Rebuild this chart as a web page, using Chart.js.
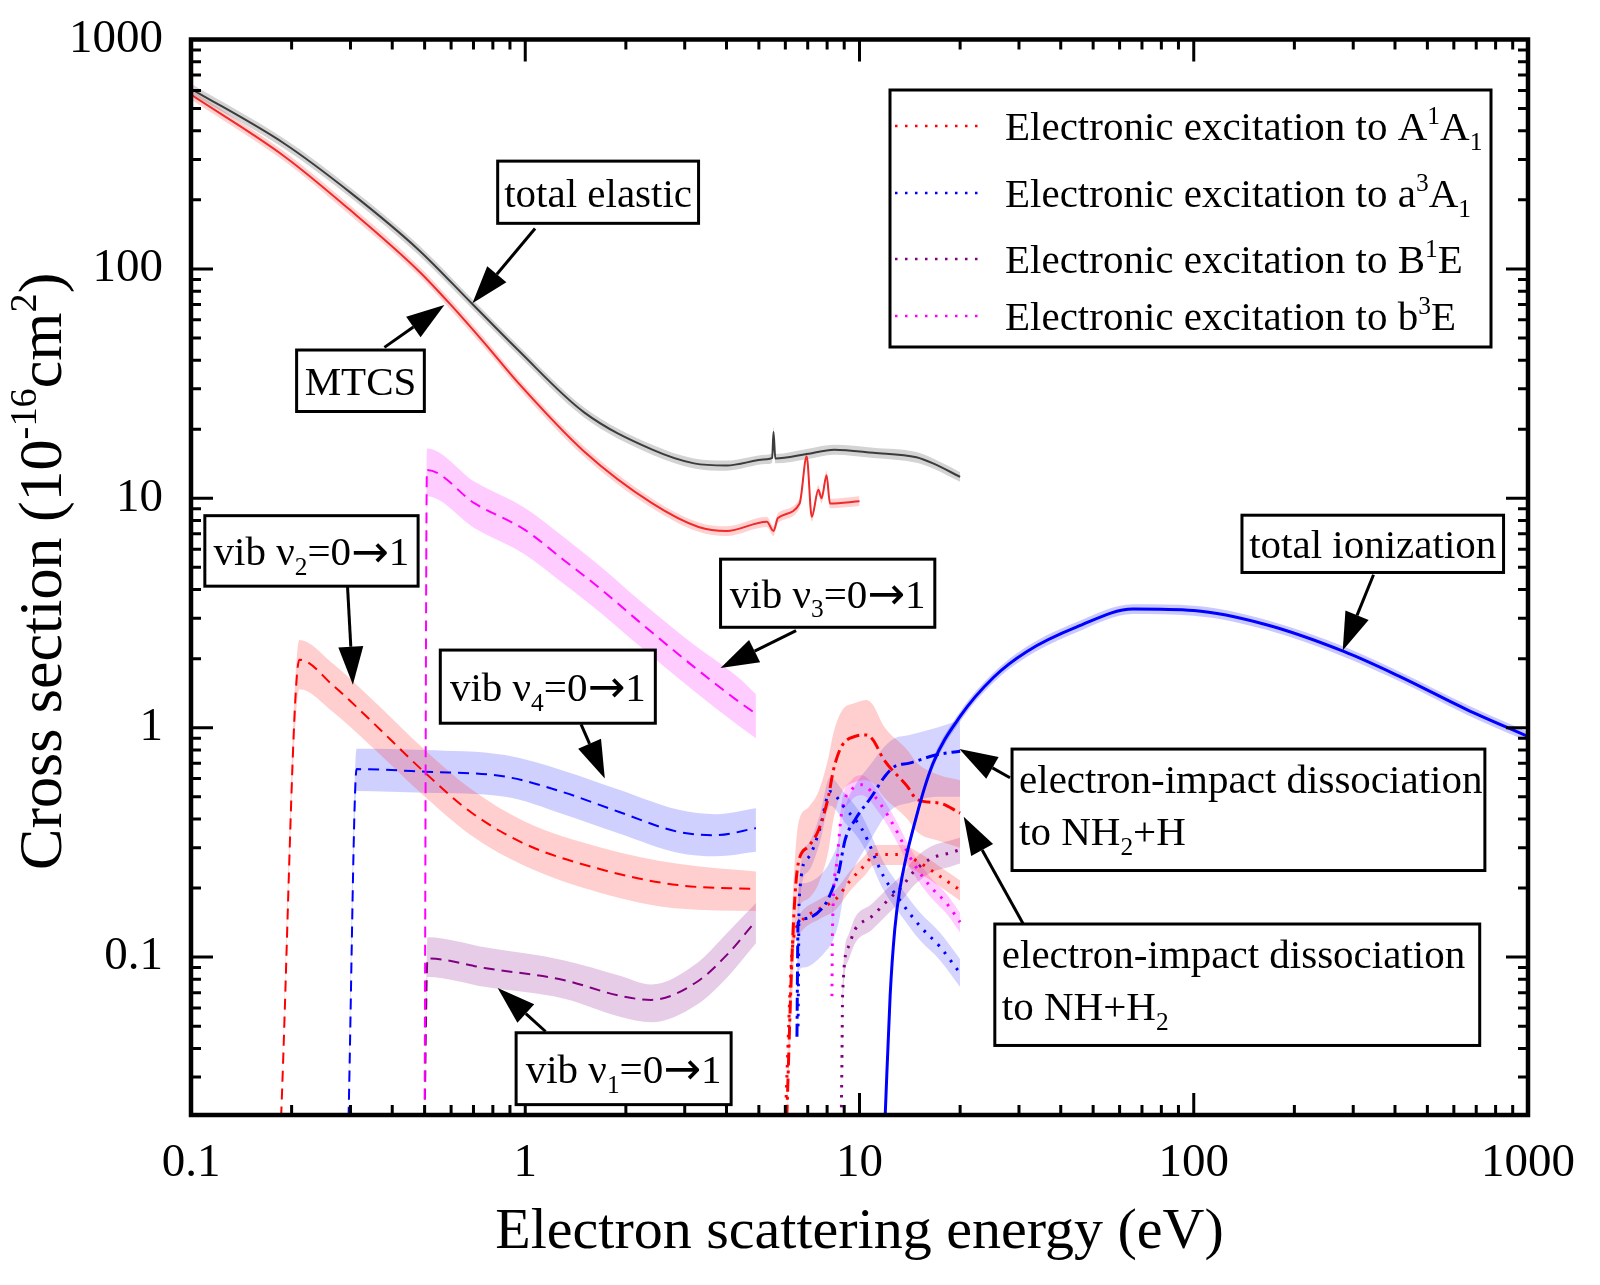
<!DOCTYPE html>
<html>
<head>
<meta charset="utf-8">
<script src="https://cdn.jsdelivr.net/npm/chart.js@4.4.1/dist/chart.umd.min.js"></script>
<style>
  html, body { margin: 0; padding: 0; background: #fff; }
</style>
</head>
<body>
<canvas id="xsec" width="1600" height="1285"></canvas>
<script>
const FAMILY = "'Liberation Serif', 'Times New Roman', serif";
const ARROW_FAMILY = "'DejaVu Sans', sans-serif";

// axis ticks
const xTickValues = [0.1, 1, 10, 100, 1000];
const xTickLabels = ['0.1', '1', '10', '100', '1000'];
const yTickValues = [0.1, 1, 10, 100, 1000];
const yTickLabels = ['0.1', '1', '10', '100', '1000'];

// total elastic
const elasticE  = [0.1, 0.19, 0.3, 0.48, 0.69, 0.95, 1.5, 2.4, 3.2, 4.0, 5.28, 5.48, 5.53, 5.6, 6.95, 8.4, 11, 14.8, 16.6, 20];
const elasticCS = [610, 352, 215, 121, 71, 44.4, 23.7, 16.3, 14.2, 13.9, 14.8, 15.0, 19.5, 14.9, 15.6, 16.3, 15.8, 15.1, 14.2, 12.4];
const elasticLo = [580, 335, 205, 115, 67.5, 42.2, 22.5, 15.5, 13.5, 13.2, 14.1, 14.3, 18.5, 14.2, 14.8, 15.5, 15.0, 14.3, 13.5, 11.8];
const elasticHi = [641, 369, 226, 127, 74.5, 46.6, 24.9, 17.1, 14.9, 14.6, 15.5, 15.7, 20.5, 15.6, 16.4, 17.1, 16.6, 15.9, 14.9, 13.0];

// momentum transfer (MTCS)
const mtcsE  = [0.1, 0.19, 0.3, 0.48, 0.6, 0.76, 0.95, 1.5, 2.4, 3.3, 4.0, 5.28, 5.53, 5.7, 6.62, 6.95, 7.2, 7.53, 7.7, 7.97, 8.16, 10];
const mtcsCS = [575, 310, 180, 98, 69.5, 47, 32, 16, 9.5, 7.5, 7.2, 7.9, 7.2, 8.2, 9.5, 15.2, 8.3, 10.9, 10.0, 12.6, 9.5, 9.7];
const mtcsLo = [548, 295, 171, 93.5, 66, 44.7, 30.5, 15.2, 9.05, 7.15, 6.85, 7.5, 6.85, 7.8, 9.05, 14.5, 7.9, 10.4, 9.5, 12.0, 9.05, 9.25];
const mtcsHi = [603, 325, 189, 103, 73, 49.3, 33.5, 16.8, 9.95, 7.85, 7.55, 8.3, 7.55, 8.6, 9.95, 15.9, 8.7, 11.4, 10.5, 13.2, 9.95, 10.2];

// vib nu3
const nu3E  = [0.5, 0.508, 0.706, 0.995, 1.3, 1.69, 2.19, 3.17, 4.35, 4.9];
const nu3CS = [0.02, 13.3, 9.5, 7.3, 5.4, 4.0, 2.9, 1.86, 1.30, 1.15];
const nu3Lo = [0.02, 10.2, 7.4, 5.7, 4.25, 3.15, 2.28, 1.46, 1.02, 0.90];
const nu3Hi = [0.02, 16.5, 11.8, 9.1, 6.8, 5.0, 3.6, 2.32, 1.65, 1.40];

// vib nu2
const nu2E  = [0.186, 0.211, 0.266, 0.346, 0.501, 0.688, 0.995, 1.69, 2.86, 4.9];
const nu2CS = [0.02, 1.98, 1.53, 1.07, 0.637, 0.428, 0.312, 0.241, 0.206, 0.198];
const nu2Lo = [0.02, 1.47, 1.17, 0.83, 0.50, 0.34, 0.25, 0.19, 0.163, 0.159];
const nu2Hi = [0.02, 2.41, 1.90, 1.34, 0.80, 0.54, 0.39, 0.30, 0.255, 0.236];

// vib nu4
const nu4E  = [0.296, 0.313, 0.5, 0.87, 1.3, 1.92, 2.86, 3.72, 4.9];
const nu4CS = [0.02, 0.66, 0.643, 0.612, 0.523, 0.428, 0.352, 0.340, 0.365];
const nu4Lo = [0.02, 0.53, 0.52, 0.50, 0.42, 0.345, 0.285, 0.275, 0.288];
const nu4Hi = [0.02, 0.81, 0.80, 0.76, 0.65, 0.535, 0.44, 0.42, 0.446];

// vib nu1
const nu1E  = [0.5, 0.51, 0.764, 1.3, 1.92, 2.38, 3.26, 4.03, 4.9];
const nu1CS = [0.02, 0.0986, 0.0894, 0.0795, 0.0678, 0.0651, 0.0779, 0.103, 0.144];
const nu1Lo = [0.02, 0.082, 0.074, 0.066, 0.055, 0.052, 0.062, 0.082, 0.115];
const nu1Hi = [0.02, 0.122, 0.110, 0.097, 0.083, 0.076, 0.094, 0.128, 0.172];

// total ionization
const ionE  = [11.93, 12.35, 12.75, 13.2, 14.8, 16.6, 20, 25.2, 31.7, 44.7, 65.8, 100, 165, 281, 414, 656, 1000];
const ionCS = [0.02, 0.068, 0.132, 0.197, 0.41, 0.70, 1.12, 1.66, 2.15, 2.75, 3.29, 3.24, 2.81, 2.15, 1.67, 1.20, 0.916];
const ionLo = [0.02, 0.064, 0.125, 0.187, 0.39, 0.665, 1.065, 1.58, 2.04, 2.61, 3.13, 3.08, 2.67, 2.04, 1.59, 1.14, 0.87];
const ionHi = [0.02, 0.072, 0.139, 0.207, 0.43, 0.735, 1.175, 1.74, 2.26, 2.89, 3.45, 3.40, 2.95, 2.26, 1.75, 1.26, 0.96];

// dissociation to NH + H2
const nhE  = [6.06, 6.27, 6.41, 6.56, 7.04, 7.55, 8.07, 8.36, 8.84, 9.7, 10.5, 11.0, 11.8, 13.9, 14.9, 17.4, 20];
const nhCS = [0.02, 0.094, 0.184, 0.257, 0.304, 0.359, 0.50, 0.656, 0.83, 0.916, 0.93, 0.88, 0.73, 0.555, 0.485, 0.469, 0.424];
const nhLo = [0.02, 0.06, 0.12, 0.16, 0.18, 0.21, 0.29, 0.40, 0.52, 0.58, 0.59, 0.57, 0.50, 0.40, 0.35, 0.32, 0.30];
const nhHi = [0.02, 0.14, 0.27, 0.38, 0.45, 0.53, 0.74, 0.95, 1.18, 1.28, 1.32, 1.25, 1.02, 0.80, 0.70, 0.62, 0.59];

// dissociation to NH2 + H
const nh2E  = [6.5, 6.55, 6.8, 7.88, 8.36, 8.65, 9.06, 9.7, 10.86, 11.9, 12.75, 14.1, 17.0, 20];
const nh2CS = [0.045, 0.141, 0.147, 0.169, 0.203, 0.232, 0.325, 0.397, 0.50, 0.613, 0.678, 0.701, 0.762, 0.79];
const nh2Lo = [0.028, 0.085, 0.09, 0.105, 0.12, 0.14, 0.20, 0.25, 0.33, 0.41, 0.45, 0.47, 0.50, 0.50];
const nh2Hi = [0.06, 0.20, 0.21, 0.24, 0.28, 0.32, 0.45, 0.56, 0.70, 0.83, 0.90, 0.93, 1.0, 1.08];

// electronic excitation A1A1
const exAE  = [6.0, 6.3, 6.64, 7.62, 8.46, 9.37, 10.4, 11.1, 13.4, 15.2, 17.4, 20];
const exACS = [0.02, 0.11, 0.141, 0.163, 0.178, 0.215, 0.253, 0.28, 0.28, 0.257, 0.225, 0.196];
const exALo = [0.02, 0.099, 0.127, 0.147, 0.16, 0.194, 0.228, 0.252, 0.252, 0.231, 0.203, 0.176];
const exAHi = [0.02, 0.121, 0.155, 0.179, 0.196, 0.237, 0.278, 0.308, 0.308, 0.283, 0.248, 0.216];

// electronic excitation a3A1
const exaE  = [6.55, 6.6, 7.0, 7.6, 8.16, 9.0, 10.2, 11.8, 13.4, 15.2, 17.4, 20];
const exaCS = [0.05, 0.18, 0.27, 0.36, 0.527, 0.45, 0.359, 0.225, 0.172, 0.136, 0.111, 0.085];
const exaLo = [0.044, 0.157, 0.235, 0.313, 0.458, 0.39, 0.31, 0.196, 0.15, 0.118, 0.097, 0.074];
const exaHi = [0.057, 0.207, 0.31, 0.414, 0.606, 0.52, 0.41, 0.26, 0.198, 0.156, 0.128, 0.098];

// electronic excitation B1E
const exBE  = [8.82, 8.86, 8.9, 9.27, 9.7, 10.86, 12.2, 13.4, 14.5, 16.3, 18.7, 20];
const exBCS = [0.02, 0.035, 0.068, 0.111, 0.132, 0.15, 0.178, 0.203, 0.235, 0.268, 0.285, 0.294];
const exBLo = [0.02, 0.03, 0.059, 0.097, 0.115, 0.131, 0.155, 0.177, 0.204, 0.233, 0.248, 0.256];
const exBHi = [0.02, 0.04, 0.077, 0.125, 0.149, 0.17, 0.201, 0.229, 0.266, 0.303, 0.322, 0.332];

// electronic excitation b3E
const exbE  = [8.27, 8.3, 8.55, 8.84, 9.48, 10.15, 11.5, 12.7, 14.5, 16.3, 18.2, 20];
const exbCS = [0.0676, 0.13, 0.257, 0.425, 0.537, 0.564, 0.469, 0.371, 0.257, 0.203, 0.172, 0.142];
const exbLo = [0.061, 0.117, 0.231, 0.383, 0.483, 0.508, 0.422, 0.334, 0.231, 0.183, 0.155, 0.128];
const exbHi = [0.074, 0.143, 0.283, 0.468, 0.591, 0.62, 0.516, 0.408, 0.283, 0.223, 0.189, 0.156];

const DASHED = [11, 7];
const DASHDOT = [13, 5, 3, 5];
const DOTTED = [2.5, 7.5];

const seriesDefs = [
  { name: 'total elastic', e: elasticE, mid: elasticCS, lo: elasticLo, hi: elasticHi, color: '#3c3c3c', band: 'rgba(110,110,110,0.30)', width: 2, dash: [] },
  { name: 'MTCS', e: mtcsE, mid: mtcsCS, lo: mtcsLo, hi: mtcsHi, color: '#ee2a2a', band: 'rgba(255,90,90,0.28)', width: 2, dash: [] },
  { name: 'vib nu3', e: nu3E, mid: nu3CS, lo: nu3Lo, hi: nu3Hi, color: '#ff00ff', band: 'rgba(255,0,255,0.20)', width: 2, dash: DASHED },
  { name: 'vib nu2', e: nu2E, mid: nu2CS, lo: nu2Lo, hi: nu2Hi, color: '#ff0000', band: 'rgba(255,60,60,0.25)', width: 2, dash: DASHED },
  { name: 'vib nu4', e: nu4E, mid: nu4CS, lo: nu4Lo, hi: nu4Hi, color: '#0000ff', band: 'rgba(40,40,255,0.22)', width: 2, dash: DASHED },
  { name: 'vib nu1', e: nu1E, mid: nu1CS, lo: nu1Lo, hi: nu1Hi, color: '#800080', band: 'rgba(128,0,128,0.20)', width: 2, dash: DASHED },
  { name: 'total ionization', e: ionE, mid: ionCS, lo: ionLo, hi: ionHi, color: '#0000ff', band: 'rgba(40,40,255,0.25)', width: 3, dash: [] },
  { name: 'NH+H2', e: nhE, mid: nhCS, lo: nhLo, hi: nhHi, color: '#ff0000', band: 'rgba(255,60,60,0.25)', width: 3, dash: DASHDOT },
  { name: 'NH2+H', e: nh2E, mid: nh2CS, lo: nh2Lo, hi: nh2Hi, color: '#0000ff', band: 'rgba(40,40,255,0.20)', width: 3, dash: DASHDOT },
  { name: 'A1A1', e: exAE, mid: exACS, lo: exALo, hi: exAHi, color: '#ff0000', band: 'rgba(255,60,60,0.25)', width: 3, dash: DOTTED },
  { name: 'a3A1', e: exaE, mid: exaCS, lo: exaLo, hi: exaHi, color: '#0000ff', band: 'rgba(40,40,255,0.20)', width: 3, dash: DOTTED },
  { name: 'B1E', e: exBE, mid: exBCS, lo: exBLo, hi: exBHi, color: '#800080', band: 'rgba(128,0,128,0.20)', width: 3, dash: DOTTED },
  { name: 'b3E', e: exbE, mid: exbCS, lo: exbLo, hi: exbHi, color: '#ff00ff', band: 'rgba(255,0,255,0.20)', width: 3, dash: DOTTED }
];

const legendItems = [
  { series: 'A1A1', parts: ['Electronic excitation to A', { sup: '1' }, 'A', { sub: '1' }], dy: 50 },
  { series: 'a3A1', parts: ['Electronic excitation to a', { sup: '3' }, 'A', { sub: '1' }], dy: 117 },
  { series: 'B1E', parts: ['Electronic excitation to B', { sup: '1' }, 'E'], dy: 183 },
  { series: 'b3E', parts: ['Electronic excitation to b', { sup: '3' }, 'E'], dy: 240 }
];

// labelled boxes: box corners and arrow ends in data units (eV, 1e-16 cm2)
const notes = [
  { lines: [['total elastic']], box: [0.827, 295, 3.30, 158], from: [1.07, 150], to: [0.695, 70.8] },
  { lines: [['MTCS']], box: [0.207, 44.3, 0.499, 23.9], from: [0.379, 45.5], to: [0.573, 69.6] },
  { lines: [['vib ν', { sub: '2' }, '=0', { arrow: '→' }, '1']], box: [0.110, 8.40, 0.478, 4.14], from: [0.294, 4.11], to: [0.305, 1.54] },
  { lines: [['vib ν', { sub: '3' }, '=0', { arrow: '→' }, '1']], box: [3.84, 5.43, 16.8, 2.74], from: [6.46, 2.65], to: [3.84, 1.82] },
  { lines: [['vib ν', { sub: '4' }, '=0', { arrow: '→' }, '1']], box: [0.557, 2.18, 2.45, 1.046], from: [1.469, 1.034], to: [1.73, 0.600] },
  { lines: [['vib ν', { sub: '1' }, '=0', { arrow: '→' }, '1']], box: [0.939, 0.0468, 4.13, 0.02275], from: [1.15, 0.0474], to: [0.827, 0.0733] },
  { lines: [['total ionization']], box: [139.4, 8.44, 845, 4.75], from: [345, 4.64], to: [279, 2.17] },
  { lines: [['electron-impact dissociation'], ['to NH', { sub: '2' }, '+H']], box: [28.6, 0.807, 743, 0.2385], from: [28.2, 0.605], to: [19.9, 0.807] },
  { lines: [['electron-impact dissociation'], ['to NH+H', { sub: '2' }]], box: [25.4, 0.1394, 717, 0.0412], from: [30.9, 0.1394], to: [20.5, 0.409] }
];

function pts(xs, ys) {
  return xs.map((x, i) => ({ x: x, y: ys[i] }));
}

const datasets = [];
seriesDefs.forEach(s => {
  datasets.push({ label: s.name + ' hi', data: pts(s.e, s.hi), fill: '+1', backgroundColor: s.band,
    borderWidth: 0, pointRadius: 0, cubicInterpolationMode: 'monotone', order: 2 });
  datasets.push({ label: s.name + ' lo', data: pts(s.e, s.lo), fill: false,
    borderWidth: 0, pointRadius: 0, cubicInterpolationMode: 'monotone', order: 2 });
  datasets.push({ label: s.name, data: pts(s.e, s.mid), fill: false, borderColor: s.color,
    borderWidth: s.width, borderDash: s.dash, pointRadius: 0, cubicInterpolationMode: 'monotone', order: 1 });
});

// parts are plain strings or {sup}, {sub}, {arrow}; strings are checked first
// because String.prototype has legacy sup()/sub() methods
function partKind(p) {
  if (typeof p === 'string') return 'text';
  if (p.sup !== undefined) return 'sup';
  if (p.sub !== undefined) return 'sub';
  return 'arrow';
}

function partText(p) {
  const k = partKind(p);
  return k === 'text' ? p : p[k];
}

function partFont(p, size) {
  const k = partKind(p);
  if (k === 'text') return size + 'px ' + FAMILY;
  if (k === 'arrow') return (size * 1.1) + 'px ' + ARROW_FAMILY;
  return (size * 0.62) + 'px ' + FAMILY;
}

function richWidth(ctx, parts, size) {
  let w = 0;
  parts.forEach(p => {
    ctx.font = partFont(p, size);
    w += ctx.measureText(partText(p)).width;
  });
  return w;
}

function drawRich(ctx, parts, x, y, size, align) {
  let cx = align === 'center' ? x - richWidth(ctx, parts, size) / 2 : x;
  ctx.textAlign = 'left';
  ctx.textBaseline = 'alphabetic';
  parts.forEach(p => {
    const k = partKind(p);
    let dy = 0;
    if (k === 'sup') dy = -size * 0.40;
    else if (k === 'sub') dy = size * 0.24;
    else if (k === 'arrow') dy = size * 0.03;
    ctx.font = partFont(p, size);
    ctx.fillText(partText(p), cx, y + dy);
    cx += ctx.measureText(partText(p)).width;
  });
}

function drawArrow(ctx, x0, y0, x1, y1) {
  const ang = Math.atan2(y1 - y0, x1 - x0);
  const len = 38, half = 12.5;
  const bx = x1 - len * Math.cos(ang), by = y1 - len * Math.sin(ang);
  ctx.lineWidth = 3;
  ctx.beginPath();
  ctx.moveTo(x0, y0);
  ctx.lineTo(bx, by);
  ctx.stroke();
  ctx.beginPath();
  ctx.moveTo(x1, y1);
  ctx.lineTo(bx + half * Math.sin(ang), by - half * Math.cos(ang));
  ctx.lineTo(bx - half * Math.sin(ang), by + half * Math.cos(ang));
  ctx.closePath();
  ctx.fill();
}

function minorValues(lo, hi) {
  const out = [];
  for (let d = Math.floor(Math.log10(lo)); d <= Math.ceil(Math.log10(hi)); d++) {
    for (let m = 2; m <= 9; m++) {
      const v = m * Math.pow(10, d);
      if (v > lo && v < hi) out.push(v);
    }
  }
  return out;
}

function noScalePadding(s) {
  s.paddingTop = 0;
  s.paddingBottom = 0;
  s.paddingLeft = 0;
  s.paddingRight = 0;
}

const frameAndNotes = {
  id: 'frameAndNotes',
  afterDatasetsDraw(chart) {
    const { ctx, chartArea: a, scales: { x, y } } = chart;
    ctx.save();
    ctx.strokeStyle = '#000';
    ctx.fillStyle = '#000';
    ctx.setLineDash([]);

    // inward ticks on all four sides
    ctx.lineWidth = 3;
    const xt = xTickValues.map(v => [v, 22]).concat(minorValues(x.min, x.max).map(v => [v, 10]));
    xt.forEach(([v, len]) => {
      const px = x.getPixelForValue(v);
      ctx.beginPath();
      ctx.moveTo(px, a.bottom); ctx.lineTo(px, a.bottom - len);
      ctx.moveTo(px, a.top); ctx.lineTo(px, a.top + len);
      ctx.stroke();
    });
    const yt = yTickValues.map(v => [v, 22]).concat(minorValues(y.min, y.max).map(v => [v, 10]));
    yt.forEach(([v, len]) => {
      const py = y.getPixelForValue(v);
      ctx.beginPath();
      ctx.moveTo(a.left, py); ctx.lineTo(a.left + len, py);
      ctx.moveTo(a.right, py); ctx.lineTo(a.right - len, py);
      ctx.stroke();
    });
    ctx.lineWidth = 4.5;
    ctx.strokeRect(a.left, a.top, a.right - a.left, a.bottom - a.top);

    // annotation boxes with arrows
    const size = 41;
    notes.forEach(n => {
      const x0 = x.getPixelForValue(n.box[0]), y0 = y.getPixelForValue(n.box[1]);
      const x1 = x.getPixelForValue(n.box[2]), y1 = y.getPixelForValue(n.box[3]);
      ctx.fillStyle = '#fff';
      ctx.fillRect(x0, y0, x1 - x0, y1 - y0);
      ctx.lineWidth = 3;
      ctx.strokeStyle = '#000';
      ctx.strokeRect(x0, y0, x1 - x0, y1 - y0);
      ctx.fillStyle = '#000';
      if (n.lines.length === 1) {
        drawRich(ctx, n.lines[0], (x0 + x1) / 2, (y0 + y1) / 2 + size * 0.35, size, 'center');
      } else {
        drawRich(ctx, n.lines[0], x0 + 7, y0 + 44, size, 'left');
        drawRich(ctx, n.lines[1], x0 + 7, y0 + 96, size, 'left');
      }
      drawArrow(ctx, x.getPixelForValue(n.from[0]), y.getPixelForValue(n.from[1]),
        x.getPixelForValue(n.to[0]), y.getPixelForValue(n.to[1]));
    });

    // legend box
    const lx = a.right - 638, ly = a.top + 50.5, lw = 601, lh = 257;
    ctx.fillStyle = '#fff';
    ctx.fillRect(lx, ly, lw, lh);
    ctx.lineWidth = 3;
    ctx.strokeRect(lx, ly, lw, lh);
    legendItems.forEach(it => {
      const s = seriesDefs.find(d => d.name === it.series);
      const by = ly + it.dy;
      ctx.strokeStyle = s.color;
      ctx.lineWidth = 2.5;
      ctx.setLineDash(s.dash);
      ctx.beginPath();
      ctx.moveTo(lx + 5, by - 14);
      ctx.lineTo(lx + 89, by - 14);
      ctx.stroke();
      ctx.setLineDash([]);
      ctx.fillStyle = '#000';
      drawRich(ctx, it.parts, lx + 115, by, size, 'left');
    });
    ctx.strokeStyle = '#000';

    // y axis title with superscripts
    ctx.translate(40, (a.top + a.bottom) / 2 - 6);
    ctx.rotate(-Math.PI / 2);
    drawRich(ctx, ['Cross section (10', { sup: '-16' }, 'cm', { sup: '2' }, ')'], 0, 21, 62, 'center');
    ctx.restore();
  }
};

new Chart(document.getElementById('xsec').getContext('2d'), {
  type: 'line',
  data: { datasets: datasets },
  options: {
    responsive: false,
    animation: false,
    devicePixelRatio: 1,
    layout: { padding: { left: 0, top: 39.5, right: 72, bottom: 0 } },
    scales: {
      x: {
        type: 'logarithmic',
        min: 0.1,
        max: 1000,
        afterBuildTicks: s => { s.ticks = xTickValues.map(v => ({ value: v })); },
        afterFit: s => { s.height = 170; noScalePadding(s); },
        grid: { display: false, drawTicks: false },
        border: { display: false },
        ticks: {
          autoSkip: false, maxRotation: 0, padding: 20, color: '#000',
          font: { family: FAMILY, size: 47 },
          callback: (v, i) => xTickLabels[i]
        },
        title: {
          display: true, text: 'Electron scattering energy (eV)', color: '#000',
          font: { family: FAMILY, size: 58 }, padding: { top: 0, bottom: 17 }
        }
      },
      y: {
        type: 'logarithmic',
        min: 0.0205,
        max: 1000,
        afterBuildTicks: s => { s.ticks = yTickValues.map(v => ({ value: v })); },
        afterFit: s => { s.width = 191; noScalePadding(s); },
        grid: { display: false, drawTicks: false },
        border: { display: false },
        ticks: {
          autoSkip: false, padding: 28, color: '#000',
          font: { family: FAMILY, size: 47 },
          callback: (v, i) => yTickLabels[i]
        }
      }
    },
    plugins: {
      legend: { display: false },
      tooltip: { enabled: false }
    }
  },
  plugins: [frameAndNotes]
});
</script>
</body>
</html>
